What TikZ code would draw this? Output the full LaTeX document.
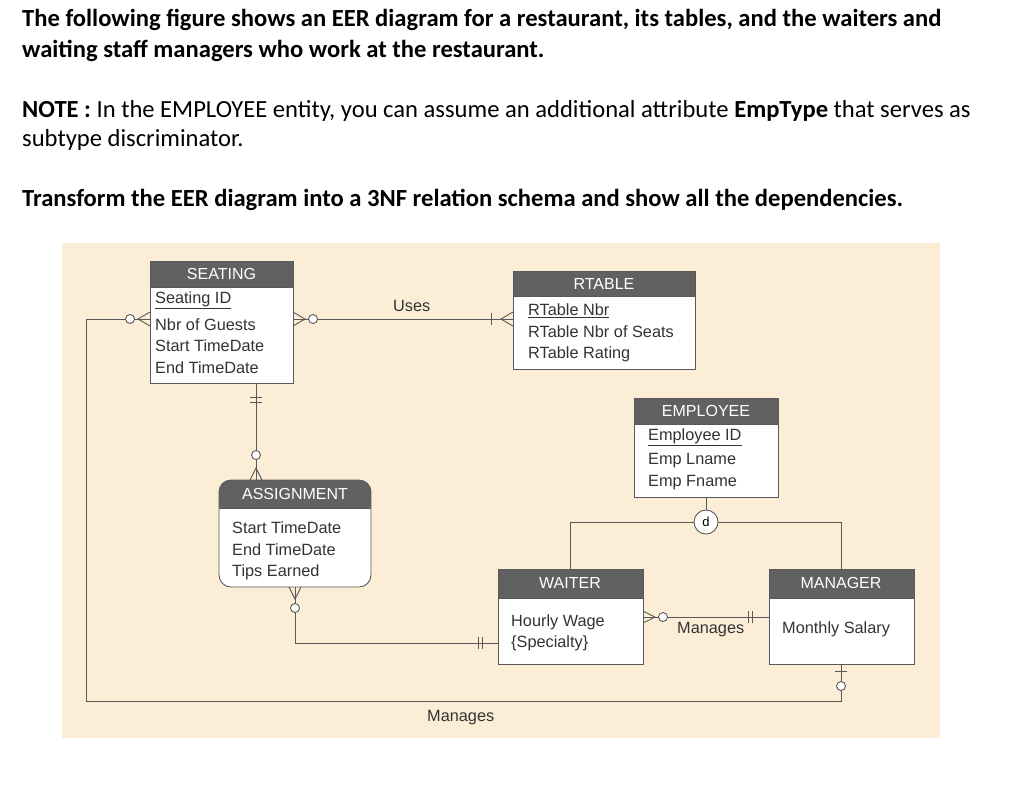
\documentclass[tikz,border=0pt]{standalone}
\usepackage{fontspec}
\setmainfont{Carlito}
\newfontfamily\dfont{Liberation Sans}
\definecolor{bgc}{RGB}{252,238,214}
\begin{document}
\begin{tikzpicture}[x=1pt,y=-1pt,
  hdr/.style={anchor=west,font=\fontsize{24.6}{28}\selectfont,inner sep=0},
  att/.style={anchor=west,font=\dfont\fontsize{16.3}{18}\selectfont,text=black!80,inner sep=0},
  ttl/.style={font=\dfont\fontsize{16}{18}\selectfont,text=white,inner sep=0},
  ln/.style={draw=black!65,line width=0.9pt},
  box/.style={draw=black!65,fill=white,line width=0.9pt},
  head/.style={draw=black!65,fill=black!62,line width=0.9pt}]
\useasboundingbox (0,0) rectangle (1024,804);
\fill[white] (0,0) rectangle (1024,804);
\node[hdr] (t1) at (22,20) {\textbf{The following figure shows an EER diagram for a restaurant, its tables, and the waiters and}};
\node[hdr] (t2) at (22,51) {\textbf{waiting staff managers who work at the restaurant.}};
\node[hdr] (t3) at (22,111) {\textbf{NOTE :} In the EMPLOYEE entity, you can assume an additional attribute \textbf{EmpType} that serves as};
\node[hdr] (t4) at (22,140) {subtype discriminator.};
\node[hdr] (t5) at (22,200) {\textbf{Transform the EER diagram into a 3NF relation schema and show all the dependencies.}};
\fill[bgc] (62,243) rectangle (940,738);
% lines
\draw[ln] (293,319) -- (513,319);
\draw[ln] (150,319) -- (86,319) -- (86,701) -- (841,701) -- (841,664);
\draw[ln] (256,383) -- (256,480);
\draw[ln] (295,587) -- (295,643) -- (498,643);
\draw[ln] (643,617) -- (769,617);
\draw[ln] (706,497) -- (706,510);
\draw[ln] (570,569) -- (570,522) -- (694,522);
\draw[ln] (718,522) -- (841,522) -- (841,569);
\node[ln,circle,fill=white,minimum size=24pt,inner sep=0,font=\dfont\fontsize{13}{15}\selectfont] (d) at (706,522) {d};
% SEATING
\draw[box] (150,287) rectangle (293,383);
\draw[head] (150,261) rectangle (293,287);
\node[ttl] (s0) at (221.5,274) {SEATING};
\node[att] (s1) at (155,300) {\underline{Seating ID}};
\node[att] (s2) at (155,325) {Nbr of Guests};
\node[att] (s3) at (155,346) {Start TimeDate};
\node[att] (s4) at (155,368) {End TimeDate};
% RTABLE
\draw[box] (513,296) rectangle (695,369);
\draw[head] (513,271) rectangle (695,296);
\node[ttl] (r0) at (604,284) {RTABLE};
\node[att] (r1) at (528,311) {\underline{RTable Nbr}};
\node[att] (r2) at (528,332) {RTable Nbr of Seats};
\node[att] (r3) at (528,354) {RTable Rating};
% EMPLOYEE
\draw[box] (634,424) rectangle (778,497);
\draw[head] (634,398) rectangle (778,424);
\node[ttl] (e0) at (706,411) {EMPLOYEE};
\node[att] (e1) at (648,437) {\underline{Employee ID}};
\node[att] (e2) at (648,461) {Emp Lname};
\node[att] (e3) at (648,483) {Emp Fname};
% ASSIGNMENT
\begin{scope}
\clip[rounded corners=12pt] (219,480) rectangle (371,587);
\fill[white] (219,480) rectangle (371,587);
\fill[black!62] (219,480) rectangle (371,508);
\end{scope}
\draw[ln,rounded corners=12pt] (219,480) rectangle (371,587);
\draw[ln] (219,508) -- (371,508);
\node[ttl] (a0) at (295,494) {ASSIGNMENT};
\node[att] (a1) at (232,528) {Start TimeDate};
\node[att] (a2) at (232,550) {End TimeDate};
\node[att] (a3) at (232,572) {Tips Earned};
% WAITER
\draw[box] (498,598) rectangle (643,664);
\draw[head] (498,569) rectangle (643,598);
\node[ttl] (w0) at (570,583) {WAITER};
\node[att] (w1) at (511,622) {Hourly Wage};
\node[att] (w2) at (511,643) {\{Specialty\}};
% MANAGER
\draw[box] (769,598) rectangle (914,664);
\draw[head] (769,569) rectangle (914,598);
\node[ttl] (m0) at (841,583) {MANAGER};
\node[att] (m1) at (782,629) {Monthly Salary};
% labels
\node[att] (l1) at (393,306) {Uses};
\node[att] (l2) at (427,718) {Manages};
\node[att] (l3) at (677,630) {Manages};
% cardinality marks
\draw[ln] (150,312) -- (138,319) -- (150,326);
\draw[ln,fill=white] (130,319) circle (4.5);
\draw[ln] (293,312) -- (305,319) -- (293,326);
\draw[ln,fill=white] (313,319) circle (4.5);
\draw[ln] (513,312) -- (501,319) -- (513,326);
\draw[ln] (491,313) -- (491,325);
\draw[ln] (250,397) -- (262,397) (250,402) -- (262,402);
\draw[ln] (250,480) -- (256,468) -- (262,480);
\draw[ln,fill=white] (256,455) circle (4.5);
\draw[ln] (289,587) -- (295,599) -- (301,587);
\draw[ln,fill=white] (295,608) circle (4.5);
\draw[ln] (478,637) -- (478,649) (482,637) -- (482,649);
\draw[ln] (643,611) -- (655,617) -- (643,623);
\draw[ln,fill=white] (663,617) circle (4.5);
\draw[ln] (748,611) -- (748,623) (752,611) -- (752,623);
\draw[ln] (835,671) -- (847,671);
\draw[ln,fill=white] (841,686) circle (4.5);
\end{tikzpicture}
\end{document}
